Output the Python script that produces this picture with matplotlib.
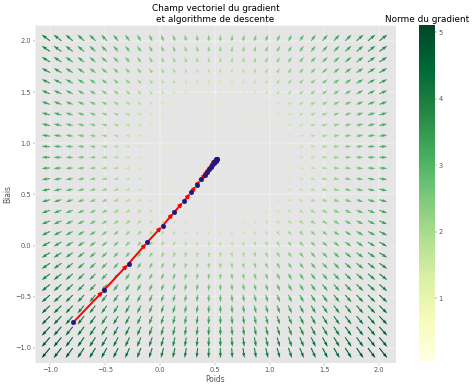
import numpy as np
import matplotlib
matplotlib.use("Agg")
import matplotlib.pyplot as plt

plt.style.use("ggplot")

# grille du champ de gradient (poids, biais)
poids_grid = np.linspace(-1, 2, 30)
biais_grid = np.linspace(-1, 2, 30)
# minimum de la fonction de coût et pente du gradient
poids_min, biais_min = 0.53, 0.86
coef_grad = 2.12

# trajectoire de la descente de gradient
traj_poids = [-0.788, -0.508, -0.283, -0.114, 0.026, 0.132, 0.218, 0.287,
              0.336, 0.378, 0.408, 0.432, 0.452, 0.468, 0.480, 0.490,
              0.498, 0.504, 0.509, 0.513, 0.516, 0.519, 0.521]
traj_biais = [-0.750, -0.435, -0.175, 0.032, 0.195, 0.327, 0.432, 0.519,
              0.594, 0.646, 0.689, 0.723, 0.750, 0.772, 0.790, 0.804,
              0.815, 0.824, 0.831, 0.837, 0.841, 0.845, 0.847]

W, B = np.meshgrid(poids_grid, biais_grid)
U = coef_grad * (W - poids_min)
V = coef_grad * (B - biais_min)
M = np.hypot(U, V)

fig = plt.figure(figsize=(11.85, 9.7), dpi=40)
ax = fig.add_axes([0.0738, 0.0644, 0.7616, 0.871])
cax = fig.add_axes([0.884, 0.067, 0.033, 0.8686])

q = ax.quiver(W, B, U, V, M, cmap="YlGn", width=0.003)

for i in range(len(traj_poids) - 1):
    ax.annotate("", xy=(traj_poids[i + 1], traj_biais[i + 1]),
                xytext=(traj_poids[i], traj_biais[i]),
                arrowprops=dict(arrowstyle="-|>", color="red", lw=3.5,
                                mutation_scale=12, shrinkA=0, shrinkB=3))
ax.scatter(traj_poids, traj_biais, color="#1f1a7a", s=75, zorder=3)

ax.set_xlim(-1.137, 2.152)
ax.set_ylim(-1.147, 2.154)
ax.set_xticks([-1.0, -0.5, 0.0, 0.5, 1.0, 1.5, 2.0])
ax.set_yticks([-1.0, -0.5, 0.0, 0.5, 1.0, 1.5, 2.0])
ax.tick_params(labelsize=12)
ax.set_xlabel("Poids", fontsize=13.5)
ax.set_ylabel("Biais", fontsize=13.5)
ax.set_title("Champ vectoriel du gradient\net algorithme de descente",
             fontsize=16)

cbar = fig.colorbar(q, cax=cax)
cbar.outline.set_visible(False)
cax.tick_params(labelsize=12)
cax.set_title("Norme du gradient", fontsize=16)

fig.savefig("out.png", dpi=40)
